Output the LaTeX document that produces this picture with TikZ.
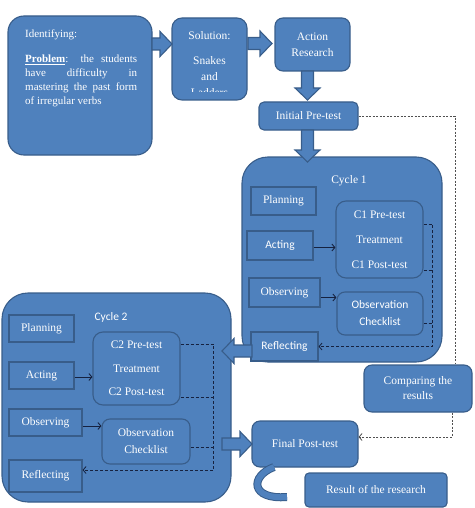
\documentclass[tikz,border=0pt]{standalone}
\usepackage{fontspec}
\setmainfont{Liberation Serif}
\newfontfamily\calibri{Carlito}
\usetikzlibrary{calc, arrows.meta}
\definecolor{boxblue}{RGB}{79,129,189}
\definecolor{boxline}{RGB}{56,93,138}
\definecolor{navy}{RGB}{22,34,64}
\definecolor{dashgray}{RGB}{80,80,80}

\begin{document}
\begin{tikzpicture}[x=1pt, y=-1pt,
    every node/.style={text=white, font=\fontsize{11.5}{14}\selectfont, inner sep=0pt},
    bluebox/.style={fill=boxblue, draw=boxline, line width=1.1pt},
    rbox/.style={bluebox, rounded corners=8pt},
    sbox/.style={bluebox},
    bigbox/.style={bluebox, rounded corners=26pt},
    sans/.style={font=\calibri\fontsize{11.5}{14}\selectfont},
    flow/.style={-{Straight Barb[length=3pt,width=7pt]}, navy, line width=0.9pt},
    dashflow/.style={navy, line width=0.8pt, dash pattern=on 3pt off 2pt},
    outdash/.style={dashgray, line width=0.8pt, dash pattern=on 2pt off 1.5pt},
    pics/barrow/.style={code={\path[bluebox, line join=miter] (0,-6) -- (#1-12,-6) -- (#1-12,-12.5)
        -- (#1,0) -- (#1-12,12.5) -- (#1-12,6) -- (0,6) -- cycle;}}]
  \useasboundingbox (0,0) rectangle (474,508);

  % top row
  \node (ident) [rbox, rounded corners=16pt, minimum width=144, minimum height=139] at (80,85.5) {};
  \node (identt) [anchor=north west, align=left, font=\fontsize{11}{14}\selectfont] at (25,30)
    {Identifying:\\[11pt]
     \makebox[112pt][s]{\underline{\textbf{Problem}}: the students}\\
     \makebox[112pt][s]{have difficulty in}\\
     \makebox[112pt][s]{mastering the past form}\\
     of irregular verbs};
  \node (sol) [rbox, rounded corners=10pt, minimum width=75, minimum height=82] at (209.5,59) {};
  \begin{scope}
    \clip (172,18) rectangle (247,92);
    \node (solt) [anchor=north, align=center, font=\fontsize{11.5}{16}\selectfont] at (209.5,31)
      {Solution:\\[9pt]Snakes\\and\\Ladders};
  \end{scope}
  \node (action) [rbox, minimum width=75, minimum height=53, align=center,
    font=\fontsize{11.5}{16}\selectfont] at (312.5,44.5) {Action\\Research};
  \node (initial) [rbox, rounded corners=5pt, minimum width=99, minimum height=28] at (308.5,116) {Initial Pre-test};

  % cycle 1
  \node (cyc1) [bigbox, minimum width=200, minimum height=205] at (342,259.5) {};
  \node (cyc1t) at (349,181) {Cycle 1};
  \node (plan1) [sbox, minimum width=65, minimum height=28] at (283.5,201) {Planning};
  \node (act1) [sbox, sans, minimum width=66, minimum height=29] at (280,245.5) {Acting};
  \node (obs1) [sbox, minimum width=71, minimum height=29] at (284.5,292.5) {Observing};
  \node (refl1) [sbox, sans, minimum width=67, minimum height=29] at (284.5,346.5) {Reflecting};
  \node (c1) [rbox, rounded corners=10pt, minimum width=87, minimum height=77, align=center,
    font=\fontsize{11.5}{25}\selectfont] at (379.5,239.5) {C1 Pre-test\\Treatment\\C1 Post-test};
  \node (chk1) [rbox, minimum width=86, minimum height=43, align=center,
    font=\calibri\fontsize{11.5}{17}\selectfont] at (380,313.5) {Observation\\Checklist};
  \draw[flow] ([yshift=-2pt]act1.east) -- ([yshift=-2pt]act1.east -| c1.west);
  \draw[flow] ([yshift=-5pt]obs1.east) -- ([yshift=-5pt]obs1.east -| chk1.west);
  \draw[dashflow] ([yshift=-30.5pt]c1.east) -- ++(9,0);
  \draw[dashflow] ([yshift=-9.5pt]chk1.east) -- ++(9,0);
  \draw[dashflow, -{Straight Barb[length=3pt,width=7pt]}] ([yshift=15.5pt]c1.east) -- ++(9,0) |- (refl1.east);

  % cycle 2
  \node (cyc2) [bigbox, minimum width=229, minimum height=209] at (116.5,397.5) {};
  \node (cyc2t) [sans] at (111,317) {Cycle 2};
  \node (plan2) [sbox, minimum width=65, minimum height=27] at (41.5,328.5) {Planning};
  \node (act2) [sbox, minimum width=65, minimum height=27] at (41.5,375.5) {Acting};
  \node (obs2) [sbox, minimum width=73, minimum height=27] at (45.5,422.5) {Observing};
  \node (refl2) [sbox, minimum width=73, minimum height=32] at (45.5,476) {Reflecting};
  \node (c2) [rbox, rounded corners=10pt, minimum width=87, minimum height=73, align=center,
    font=\fontsize{11.5}{23.5}\selectfont] at (136.5,368.5) {C2 Pre-test\\Treatment\\C2 Post-test};
  \node (chk2) [rbox, minimum width=88, minimum height=45, align=center,
    font=\fontsize{11.5}{17}\selectfont] at (146,441.5) {Observation\\Checklist};
  \draw[flow] ([yshift=-1.5pt]act2.east) -- ([yshift=-1.5pt]act2.east -| c2.west);
  \draw[flow] ([yshift=-3.5pt]obs2.east) -- ([yshift=-3.5pt]obs2.east -| chk2.west);
  \draw[dashflow] ([yshift=-28.5pt]c2.east) -- ++(33,0);
  \draw[dashflow] ([yshift=-5.5pt]chk2.east) -- ++(23,0);
  \draw[dashflow, -{Straight Barb[length=3pt,width=7pt]}] ([yshift=24.5pt]c2.east) -- ++(33,0) |- ([yshift=6pt]refl2.east);

  % bottom right
  \node (final) [rbox, minimum width=106, minimum height=46] at (305,444) {Final Post-test};
  \node (compare) [rbox, minimum width=108, minimum height=47, align=center,
    font=\fontsize{11.5}{15}\selectfont] at (418,388.5) {Comparing the\\results};
  \node (result) [rbox, rounded corners=4pt, minimum width=142, minimum height=34] at (376,490) {Result of the research};
  \draw[outdash] (initial.east) -| ([xshift=37pt]compare.north);
  \draw[outdash, -{Straight Barb[length=3pt,width=7pt]}] ([xshift=34pt]compare.south) |- ([yshift=7pt]final.east);
  \draw[boxline, line width=8pt] (274,467) .. controls (250,476) and (250,500) .. (287,497);
  \draw[boxblue, line width=6pt] (274,467) .. controls (250,476) and (250,500) .. (287,497);

  % block arrows
  \pic at (152,44) {barrow=20};
  \pic at (248,43.5) {barrow=24};
  \pic[rotate=-90] at (307.5,71) {barrow=29};
  \pic[rotate=-90] at (307.5,130) {barrow=32};
  \pic[rotate=180] at (252,351) {barrow=30};
  \pic at (222,444) {barrow=30};
\end{tikzpicture}
\end{document}
